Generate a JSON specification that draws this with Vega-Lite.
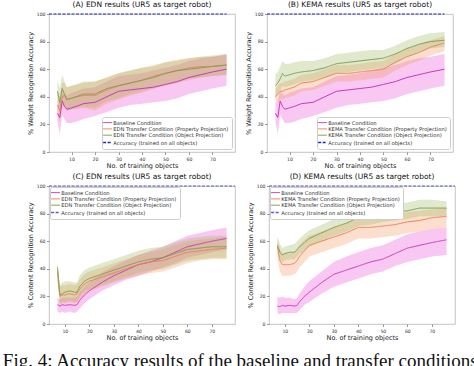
{
  "$schema": "https://vega.github.io/schema/vega-lite/v6.json",
  "padding": {"left": 2, "top": 0, "right": 0, "bottom": 0},
  "background": "white",
  "config": {
    "font": "DejaVu Sans",
    "view": {"stroke": "#b5b5b5", "strokeWidth": 0.8},
    "axis": {"grid": false, "domain": false, "tickCount": 20, "tickColor": "#555555", "tickSize": 2.5, "tickWidth": 0.6, "labelFontSize": 4.6, "labelColor": "#333333", "labelOverlap": false, "labelFlush": false, "titleFontSize": 6.5, "titleFontWeight": "normal", "titleColor": "#222222", "labelPadding": 1.5},
    "title": {"fontSize": 7.5, "fontWeight": "normal", "color": "#111111", "offset": 3},
    "legend": {"fillColor": "white", "strokeColor": "#cccccc", "padding": 3, "cornerRadius": 2, "labelFontSize": 5.2, "labelColor": "#333333", "symbolType": "stroke", "symbolSize": 80, "symbolStrokeWidth": 1, "rowPadding": 0.3, "offset": 3, "labelOffset": 3}
  },
  "datasets": {
    "AB": [
      {"s":"s1","x":4,"m":28,"l":22,"h":34},{"s":"s1","x":5,"m":25,"l":13,"h":37},{"s":"s1","x":6,"m":37,"l":27,"h":45},{"s":"s1","x":7,"m":33,"l":24,"h":42},{"s":"s1","x":8,"m":31,"l":21,"h":41},{"s":"s1","x":10,"m":32,"l":21,"h":43},{"s":"s1","x":12,"m":33,"l":22,"h":44},{"s":"s1","x":15,"m":35,"l":24,"h":46},{"s":"s1","x":20,"m":36,"l":26,"h":47},{"s":"s1","x":25,"m":40,"l":29,"h":51},{"s":"s1","x":30,"m":44,"l":32,"h":55},{"s":"s1","x":35,"m":45,"l":34,"h":56},{"s":"s1","x":40,"m":46,"l":35,"h":57},{"s":"s1","x":45,"m":47,"l":36,"h":59},{"s":"s1","x":50,"m":49,"l":37,"h":61},{"s":"s1","x":55,"m":51,"l":39,"h":63},{"s":"s1","x":60,"m":54,"l":42,"h":66},{"s":"s1","x":65,"m":56,"l":44,"h":68},{"s":"s1","x":70,"m":58,"l":46,"h":69},{"s":"s1","x":76,"m":60,"l":48,"h":71}
    ],
    "A": [
      {"s":"s2","x":4,"m":34,"l":26,"h":44},{"s":"s2","x":5,"m":30,"l":22,"h":40},{"s":"s2","x":6,"m":40,"l":32,"h":50},{"s":"s2","x":7,"m":41,"l":33,"h":50},{"s":"s2","x":8,"m":38,"l":30,"h":47},{"s":"s2","x":10,"m":39,"l":31,"h":48},{"s":"s2","x":12,"m":40,"l":31,"h":49},{"s":"s2","x":15,"m":41,"l":32,"h":50},{"s":"s2","x":20,"m":41,"l":30,"h":51},{"s":"s2","x":25,"m":45,"l":35,"h":54},{"s":"s2","x":30,"m":48,"l":38,"h":57},{"s":"s2","x":35,"m":50,"l":41,"h":59},{"s":"s2","x":40,"m":52,"l":43,"h":61},{"s":"s2","x":45,"m":55,"l":46,"h":63},{"s":"s2","x":50,"m":57,"l":48,"h":65},{"s":"s2","x":55,"m":59,"l":50,"h":67},{"s":"s2","x":60,"m":61,"l":52,"h":68},{"s":"s2","x":65,"m":62,"l":54,"h":69},{"s":"s2","x":70,"m":62,"l":55,"h":69},{"s":"s2","x":76,"m":63,"l":56,"h":70},
      {"s":"s3","x":4,"m":44,"l":36,"h":52},{"s":"s3","x":5,"m":36,"l":28,"h":46},{"s":"s3","x":6,"m":46,"l":37,"h":56},{"s":"s3","x":7,"m":42,"l":34,"h":51},{"s":"s3","x":8,"m":38,"l":30,"h":47},{"s":"s3","x":10,"m":39,"l":31,"h":48},{"s":"s3","x":12,"m":40,"l":32,"h":49},{"s":"s3","x":15,"m":42,"l":33,"h":51},{"s":"s3","x":20,"m":42,"l":32,"h":51},{"s":"s3","x":25,"m":46,"l":37,"h":54},{"s":"s3","x":30,"m":48,"l":39,"h":57},{"s":"s3","x":35,"m":50,"l":42,"h":59},{"s":"s3","x":40,"m":52,"l":44,"h":61},{"s":"s3","x":45,"m":54,"l":46,"h":62},{"s":"s3","x":50,"m":57,"l":49,"h":65},{"s":"s3","x":55,"m":59,"l":51,"h":66},{"s":"s3","x":60,"m":60,"l":53,"h":68},{"s":"s3","x":65,"m":61,"l":54,"h":69},{"s":"s3","x":70,"m":62,"l":55,"h":70},{"s":"s3","x":76,"m":63,"l":56,"h":71},
      {"s":"s4","x":0.4,"m":100},{"s":"s4","x":76,"m":100}
    ],
    "B": [
      {"s":"s2","x":4,"m":40,"l":34,"h":46},{"s":"s2","x":5,"m":42,"l":36,"h":48},{"s":"s2","x":6,"m":44,"l":38,"h":50},{"s":"s2","x":7,"m":44,"l":38,"h":50},{"s":"s2","x":8,"m":45,"l":39,"h":51},{"s":"s2","x":10,"m":46,"l":40,"h":52},{"s":"s2","x":12,"m":47,"l":41,"h":53},{"s":"s2","x":15,"m":50,"l":44,"h":56},{"s":"s2","x":20,"m":51,"l":45,"h":57},{"s":"s2","x":25,"m":54,"l":48,"h":60},{"s":"s2","x":30,"m":57,"l":51,"h":63},{"s":"s2","x":35,"m":57,"l":51,"h":63},{"s":"s2","x":40,"m":58,"l":52,"h":64},{"s":"s2","x":45,"m":59,"l":53,"h":65},{"s":"s2","x":50,"m":60,"l":54,"h":66},{"s":"s2","x":55,"m":65,"l":59,"h":71},{"s":"s2","x":60,"m":69,"l":63,"h":75},{"s":"s2","x":65,"m":72,"l":66,"h":78},{"s":"s2","x":70,"m":76,"l":70,"h":81},{"s":"s2","x":76,"m":79,"l":73,"h":84},
      {"s":"s3","x":4,"m":48,"l":40,"h":56},{"s":"s3","x":5,"m":50,"l":42,"h":58},{"s":"s3","x":6,"m":53,"l":45,"h":62},{"s":"s3","x":7,"m":57,"l":48,"h":66},{"s":"s3","x":8,"m":55,"l":47,"h":64},{"s":"s3","x":10,"m":56,"l":48,"h":64},{"s":"s3","x":12,"m":57,"l":49,"h":65},{"s":"s3","x":15,"m":58,"l":51,"h":66},{"s":"s3","x":20,"m":59,"l":52,"h":66},{"s":"s3","x":25,"m":61,"l":54,"h":68},{"s":"s3","x":30,"m":64,"l":57,"h":71},{"s":"s3","x":35,"m":65,"l":58,"h":72},{"s":"s3","x":40,"m":66,"l":59,"h":73},{"s":"s3","x":45,"m":67,"l":60,"h":74},{"s":"s3","x":50,"m":68,"l":61,"h":74},{"s":"s3","x":55,"m":71,"l":64,"h":77},{"s":"s3","x":60,"m":75,"l":69,"h":81},{"s":"s3","x":65,"m":78,"l":72,"h":84},{"s":"s3","x":70,"m":80,"l":75,"h":86},{"s":"s3","x":76,"m":81,"l":76,"h":87},
      {"s":"s4","x":0.4,"m":100},{"s":"s4","x":76,"m":100}
    ],
    "C": [
      {"s":"s1","x":7,"m":14,"l":9,"h":19},{"s":"s1","x":8,"m":13,"l":8,"h":18},{"s":"s1","x":9,"m":14,"l":9,"h":19},{"s":"s1","x":10,"m":13.5,"l":8,"h":19},{"s":"s1","x":12,"m":14,"l":9,"h":19},{"s":"s1","x":14,"m":13.5,"l":8,"h":19},{"s":"s1","x":15,"m":14,"l":9,"h":20},{"s":"s1","x":16,"m":17,"l":11,"h":23},{"s":"s1","x":18,"m":21,"l":15,"h":27},{"s":"s1","x":20,"m":24,"l":18,"h":30},{"s":"s1","x":25,"m":30,"l":24,"h":37},{"s":"s1","x":30,"m":35,"l":28,"h":42},{"s":"s1","x":35,"m":39,"l":32,"h":46},{"s":"s1","x":40,"m":43,"l":35,"h":50},{"s":"s1","x":45,"m":45,"l":38,"h":53},{"s":"s1","x":50,"m":48,"l":41,"h":56},{"s":"s1","x":55,"m":52,"l":44,"h":60},{"s":"s1","x":60,"m":56,"l":48,"h":64},{"s":"s1","x":65,"m":58,"l":50,"h":66},{"s":"s1","x":70,"m":60,"l":52,"h":68},{"s":"s1","x":76,"m":62,"l":54,"h":70},
      {"s":"s2","x":7,"m":38,"l":30,"h":44},{"s":"s2","x":8,"m":20,"l":14,"h":27},{"s":"s2","x":9,"m":21,"l":15,"h":28},{"s":"s2","x":10,"m":21,"l":15,"h":28},{"s":"s2","x":12,"m":22,"l":16,"h":29},{"s":"s2","x":14,"m":21,"l":15,"h":28},{"s":"s2","x":15,"m":22,"l":16,"h":29},{"s":"s2","x":16,"m":25,"l":18,"h":32},{"s":"s2","x":18,"m":29,"l":22,"h":36},{"s":"s2","x":20,"m":31,"l":24,"h":38},{"s":"s2","x":25,"m":34,"l":27,"h":41},{"s":"s2","x":30,"m":37,"l":30,"h":44},{"s":"s2","x":35,"m":40,"l":33,"h":47},{"s":"s2","x":40,"m":43,"l":35,"h":50},{"s":"s2","x":45,"m":45,"l":37,"h":52},{"s":"s2","x":50,"m":46,"l":38,"h":54},{"s":"s2","x":55,"m":49,"l":41,"h":57},{"s":"s2","x":60,"m":52,"l":44,"h":60},{"s":"s2","x":65,"m":53,"l":46,"h":61},{"s":"s2","x":70,"m":54,"l":47,"h":62},{"s":"s2","x":76,"m":55,"l":47,"h":63},
      {"s":"s3","x":7,"m":41,"l":33,"h":45},{"s":"s3","x":8,"m":21,"l":15,"h":28},{"s":"s3","x":9,"m":22,"l":16,"h":30},{"s":"s3","x":10,"m":23,"l":16,"h":31},{"s":"s3","x":12,"m":24,"l":17,"h":31},{"s":"s3","x":14,"m":23,"l":16,"h":30},{"s":"s3","x":15,"m":23,"l":16,"h":30},{"s":"s3","x":16,"m":27,"l":20,"h":35},{"s":"s3","x":18,"m":31,"l":24,"h":39},{"s":"s3","x":20,"m":33,"l":25,"h":41},{"s":"s3","x":25,"m":36,"l":28,"h":44},{"s":"s3","x":30,"m":39,"l":31,"h":47},{"s":"s3","x":35,"m":42,"l":34,"h":50},{"s":"s3","x":40,"m":45,"l":37,"h":53},{"s":"s3","x":45,"m":47,"l":39,"h":55},{"s":"s3","x":50,"m":48,"l":40,"h":56},{"s":"s3","x":55,"m":51,"l":43,"h":59},{"s":"s3","x":60,"m":54,"l":46,"h":62},{"s":"s3","x":65,"m":55,"l":47,"h":63},{"s":"s3","x":70,"m":56,"l":48,"h":64},{"s":"s3","x":76,"m":56,"l":48,"h":64},
      {"s":"s4","x":3.55,"m":100},{"s":"s4","x":79.45,"m":100}
    ],
    "D": [
      {"s":"s1","x":7,"m":13,"l":8,"h":20},{"s":"s1","x":8,"m":12.5,"l":7,"h":19},{"s":"s1","x":9,"m":13.5,"l":8,"h":20},{"s":"s1","x":10,"m":13,"l":8,"h":19},{"s":"s1","x":12,"m":13.5,"l":8,"h":19},{"s":"s1","x":14,"m":13,"l":8,"h":18},{"s":"s1","x":15,"m":13.5,"l":8,"h":19},{"s":"s1","x":16,"m":16,"l":10,"h":22},{"s":"s1","x":18,"m":20,"l":14,"h":27},{"s":"s1","x":20,"m":23,"l":16,"h":31},{"s":"s1","x":25,"m":30,"l":22,"h":38},{"s":"s1","x":30,"m":36,"l":27,"h":45},{"s":"s1","x":35,"m":39,"l":30,"h":49},{"s":"s1","x":40,"m":42,"l":33,"h":52},{"s":"s1","x":45,"m":45,"l":36,"h":55},{"s":"s1","x":50,"m":47,"l":38,"h":57},{"s":"s1","x":55,"m":51,"l":42,"h":61},{"s":"s1","x":60,"m":55,"l":45,"h":65},{"s":"s1","x":65,"m":57,"l":47,"h":67},{"s":"s1","x":70,"m":59,"l":49,"h":69},{"s":"s1","x":76,"m":61,"l":50,"h":70},
      {"s":"s2","x":7,"m":56,"l":48,"h":63},{"s":"s2","x":8,"m":46,"l":38,"h":54},{"s":"s2","x":9,"m":43,"l":35,"h":51},{"s":"s2","x":10,"m":43,"l":35,"h":51},{"s":"s2","x":12,"m":43,"l":35,"h":51},{"s":"s2","x":14,"m":44,"l":36,"h":52},{"s":"s2","x":15,"m":46,"l":38,"h":54},{"s":"s2","x":16,"m":49,"l":41,"h":57},{"s":"s2","x":18,"m":53,"l":45,"h":61},{"s":"s2","x":20,"m":57,"l":49,"h":64},{"s":"s2","x":25,"m":60,"l":52,"h":67},{"s":"s2","x":30,"m":63,"l":55,"h":70},{"s":"s2","x":35,"m":66,"l":58,"h":73},{"s":"s2","x":40,"m":70,"l":62,"h":77},{"s":"s2","x":45,"m":70,"l":62,"h":77},{"s":"s2","x":50,"m":71,"l":63,"h":78},{"s":"s2","x":55,"m":72,"l":64,"h":79},{"s":"s2","x":60,"m":74,"l":66,"h":81},{"s":"s2","x":65,"m":75,"l":67,"h":82},{"s":"s2","x":70,"m":77,"l":69,"h":83},{"s":"s2","x":76,"m":78,"l":70,"h":84},
      {"s":"s3","x":7,"m":57,"l":51,"h":63},{"s":"s3","x":8,"m":52,"l":47,"h":58},{"s":"s3","x":9,"m":50,"l":45,"h":55},{"s":"s3","x":10,"m":51,"l":46,"h":56},{"s":"s3","x":12,"m":52,"l":47,"h":57},{"s":"s3","x":14,"m":52,"l":47,"h":58},{"s":"s3","x":15,"m":54,"l":49,"h":60},{"s":"s3","x":16,"m":56,"l":51,"h":62},{"s":"s3","x":18,"m":59,"l":53,"h":65},{"s":"s3","x":20,"m":62,"l":56,"h":68},{"s":"s3","x":25,"m":66,"l":60,"h":72},{"s":"s3","x":30,"m":70,"l":64,"h":76},{"s":"s3","x":35,"m":73,"l":67,"h":79},{"s":"s3","x":40,"m":77,"l":71,"h":83},{"s":"s3","x":45,"m":78,"l":72,"h":84},{"s":"s3","x":50,"m":80,"l":74,"h":86},{"s":"s3","x":55,"m":81,"l":75,"h":87},{"s":"s3","x":60,"m":82,"l":76,"h":88},{"s":"s3","x":65,"m":84,"l":78,"h":90},{"s":"s3","x":70,"m":84,"l":78,"h":90},{"s":"s3","x":76,"m":84,"l":78,"h":89},
      {"s":"s4","x":3.55,"m":100},{"s":"s4","x":79.45,"m":100}
    ]
  },
  "title": {"text": "Fig. 4: Accuracy results of the baseline and transfer conditions", "orient": "bottom", "anchor": "start", "font": "Liberation Serif", "fontSize": 19, "fontWeight": "normal", "color": "#111111", "offset": 10, "dx": -24},
  "vconcat": [
    {"hconcat": [
      {"width": 186, "height": 138, "title": "(A) EDN results (UR5 as target robot)",
       "data": {"name": "A"},
       "layer": [
         {"data": {"name": "AB"}, "mark": {"type": "area", "opacity": 0.33},
          "encoding": {"x": {"field": "x", "type": "quantitative", "scale": {"domain": [0.4, 79.6], "nice": false, "zero": false}, "axis": {"values": [10,20,30,40,50,60,70], "tickCount": 20, "labelOverlap": false, "title": "No. of training objects", "titlePadding": 2}},
            "y": {"field": "l", "type": "quantitative", "scale": {"domain": [0, 100], "nice": false}, "axis": {"values": [0,20,40,60,80,100], "tickCount": 20, "labelOverlap": false, "title": "% Weight Recognition Accuracy", "titlePadding": 3}},
            "y2": {"field": "h"},
            "color": {"field": "s", "type": "nominal", "scale": {"domain": ["s1","s2","s3"], "range": ["#ea55d8","#f39a62","#a2b866"]}, "legend": null}}},
         {"mark": {"type": "area", "opacity": 0.33},
          "transform": [{"filter": "datum.s != 's4'"}],
          "encoding": {"x": {"field": "x", "type": "quantitative"}, "y": {"field": "l", "type": "quantitative"}, "y2": {"field": "h"},
            "color": {"field": "s", "type": "nominal", "scale": {"domain": ["s1","s2","s3"], "range": ["#ea55d8","#f39a62","#a2b866"]}, "legend": null}}},
         {"data": {"name": "AB"}, "mark": {"type": "line", "strokeWidth": 1},
          "encoding": {"x": {"field": "x", "type": "quantitative"}, "y": {"field": "m", "type": "quantitative"},
            "color": {"field": "s", "type": "nominal", "scale": {"domain": ["s1","s2","s3","s4"], "range": ["#c83cbc","#e8825a","#7e9e4e","#2424c0"]}, "legend": null}}},
         {"mark": {"type": "line", "strokeWidth": 1},
          "encoding": {"x": {"field": "x", "type": "quantitative"}, "y": {"field": "m", "type": "quantitative"},
            "color": {"field": "s", "type": "nominal", "scale": {"domain": ["s1","s2","s3","s4"], "range": ["#c83cbc","#e8825a","#7e9e4e","#2424c0"]},
              "legend": {"orient": "bottom-right", "title": null, "values": ["s1","s2","s3","s4"], "labelExpr": "datum.label == 's1' ? 'Baseline Condition' : datum.label == 's2' ? 'EDN Transfer Condition (Property Projection)' : datum.label == 's3' ? 'EDN Transfer Condition (Object Projection)' : 'Accuracy (trained on all objects)'",
                "encode": {"symbols": {"update": {"strokeDash": {"signal": "datum.value == 's4' ? [3, 1.5] : [1, 0]"}, "strokeWidth": {"signal": "datum.value == 's4' ? 1.5 : 1"}}}}}},
            "strokeDash": {"field": "s", "type": "nominal", "scale": {"domain": ["s1","s2","s3","s4"], "range": [[1,0],[1,0],[1,0],[3,1.5]]}, "legend": null},
            "strokeWidth": {"field": "s", "type": "nominal", "scale": {"domain": ["s1","s2","s3","s4"], "range": [1,1,1,1.6]}, "legend": null}}}
       ], "resolve": {"scale": {"color": "independent"}}},
      {"width": 186, "height": 138, "title": "(B) KEMA results (UR5 as target robot)",
       "data": {"name": "B"},
       "layer": [
         {"data": {"name": "AB"}, "mark": {"type": "area", "opacity": 0.33},
          "encoding": {"x": {"field": "x", "type": "quantitative", "scale": {"domain": [0.4, 79.6], "nice": false, "zero": false}, "axis": {"values": [10,20,30,40,50,60,70], "tickCount": 20, "labelOverlap": false, "title": "No. of training objects", "titlePadding": 2}},
            "y": {"field": "l", "type": "quantitative", "scale": {"domain": [0, 100], "nice": false}, "axis": {"values": [0,20,40,60,80,100], "tickCount": 20, "labelOverlap": false, "title": "% Weight Recognition Accuracy", "titlePadding": 3}},
            "y2": {"field": "h"},
            "color": {"field": "s", "type": "nominal", "scale": {"domain": ["s1","s2","s3"], "range": ["#ea55d8","#f39a62","#a2b866"]}, "legend": null}}},
         {"mark": {"type": "area", "opacity": 0.33},
          "transform": [{"filter": "datum.s != 's4'"}],
          "encoding": {"x": {"field": "x", "type": "quantitative"}, "y": {"field": "l", "type": "quantitative"}, "y2": {"field": "h"},
            "color": {"field": "s", "type": "nominal", "scale": {"domain": ["s1","s2","s3"], "range": ["#ea55d8","#f39a62","#a2b866"]}, "legend": null}}},
         {"data": {"name": "AB"}, "mark": {"type": "line", "strokeWidth": 1},
          "encoding": {"x": {"field": "x", "type": "quantitative"}, "y": {"field": "m", "type": "quantitative"},
            "color": {"field": "s", "type": "nominal", "scale": {"domain": ["s1","s2","s3","s4"], "range": ["#c83cbc","#e8825a","#7e9e4e","#2424c0"]}, "legend": null}}},
         {"mark": {"type": "line", "strokeWidth": 1},
          "encoding": {"x": {"field": "x", "type": "quantitative"}, "y": {"field": "m", "type": "quantitative"},
            "color": {"field": "s", "type": "nominal", "scale": {"domain": ["s1","s2","s3","s4"], "range": ["#c83cbc","#e8825a","#7e9e4e","#2424c0"]},
              "legend": {"orient": "bottom-right", "title": null, "values": ["s1","s2","s3","s4"], "labelExpr": "datum.label == 's1' ? 'Baseline Condition' : datum.label == 's2' ? 'KEMA Transfer Condition (Property Projection)' : datum.label == 's3' ? 'KEMA Transfer Condition (Object Projection)' : 'Accuracy (trained on all objects)'",
                "encode": {"symbols": {"update": {"strokeDash": {"signal": "datum.value == 's4' ? [3, 1.5] : [1, 0]"}, "strokeWidth": {"signal": "datum.value == 's4' ? 1.5 : 1"}}}}}},
            "strokeDash": {"field": "s", "type": "nominal", "scale": {"domain": ["s1","s2","s3","s4"], "range": [[1,0],[1,0],[1,0],[3,1.5]]}, "legend": null},
            "strokeWidth": {"field": "s", "type": "nominal", "scale": {"domain": ["s1","s2","s3","s4"], "range": [1,1,1,1.6]}, "legend": null}}}
       ], "resolve": {"scale": {"color": "independent"}}}
    ], "spacing": 8, "resolve": {"scale": {"color": "independent", "strokeDash": "independent", "strokeWidth": "independent", "x": "independent", "y": "independent"}, "legend": {"color": "independent"}}},
    {"hconcat": [
      {"width": 186, "height": 138, "title": "(C) EDN results (UR5 as target robot)",
       "data": {"name": "C"},
       "layer": [
         {"mark": {"type": "area", "opacity": 0.33},
          "transform": [{"filter": "datum.s != 's4'"}],
          "encoding": {"x": {"field": "x", "type": "quantitative", "scale": {"domain": [3.55, 79.45], "nice": false, "zero": false}, "axis": {"values": [10,20,30,40,50,60,70], "tickCount": 20, "labelOverlap": false, "title": "No. of training objects", "titlePadding": 2}},
            "y": {"field": "l", "type": "quantitative", "scale": {"domain": [0, 100], "nice": false}, "axis": {"values": [0,20,40,60,80,100], "tickCount": 20, "labelOverlap": false, "title": "% Content Recognition Accuracy", "titlePadding": 3}},
            "y2": {"field": "h"},
            "color": {"field": "s", "type": "nominal", "scale": {"domain": ["s1","s2","s3"], "range": ["#ea55d8","#f39a62","#a2b866"]}, "legend": null}}},
         {"mark": {"type": "line", "strokeWidth": 1},
          "encoding": {"x": {"field": "x", "type": "quantitative"}, "y": {"field": "m", "type": "quantitative"},
            "color": {"field": "s", "type": "nominal", "scale": {"domain": ["s1","s2","s3","s4"], "range": ["#c83cbc","#e8825a","#7e9e4e","#5a5ad8"]},
              "legend": {"orient": "top-left", "title": null, "offset": 1, "values": ["s1","s2","s3","s4"], "labelExpr": "datum.label == 's1' ? 'Baseline Condition' : datum.label == 's2' ? 'EDN Transfer Condition (Property Projection)' : datum.label == 's3' ? 'EDN Transfer Condition (Object Projection)' : 'Accuracy (trained on all objects)'",
                "encode": {"symbols": {"update": {"strokeDash": {"signal": "datum.value == 's4' ? [3, 1.5] : [1, 0]"}, "strokeWidth": {"signal": "datum.value == 's4' ? 1.5 : 1"}}}}}},
            "strokeDash": {"field": "s", "type": "nominal", "scale": {"domain": ["s1","s2","s3","s4"], "range": [[1,0],[1,0],[1,0],[3,1.5]]}, "legend": null},
            "strokeWidth": {"field": "s", "type": "nominal", "scale": {"domain": ["s1","s2","s3","s4"], "range": [1,1,1,1.4]}, "legend": null}}}
       ], "resolve": {"scale": {"color": "independent"}}},
      {"width": 186, "height": 138, "title": "(D) KEMA results (UR5 as target robot)",
       "data": {"name": "D"},
       "layer": [
         {"mark": {"type": "area", "opacity": 0.33},
          "transform": [{"filter": "datum.s != 's4'"}],
          "encoding": {"x": {"field": "x", "type": "quantitative", "scale": {"domain": [3.55, 79.45], "nice": false, "zero": false}, "axis": {"values": [10,20,30,40,50,60,70], "tickCount": 20, "labelOverlap": false, "title": "No. of training objects", "titlePadding": 2}},
            "y": {"field": "l", "type": "quantitative", "scale": {"domain": [0, 100], "nice": false}, "axis": {"values": [0,20,40,60,80,100], "tickCount": 20, "labelOverlap": false, "title": "% Content Recognition Accuracy", "titlePadding": 3}},
            "y2": {"field": "h"},
            "color": {"field": "s", "type": "nominal", "scale": {"domain": ["s1","s2","s3"], "range": ["#ea55d8","#f39a62","#a2b866"]}, "legend": null}}},
         {"mark": {"type": "line", "strokeWidth": 1},
          "encoding": {"x": {"field": "x", "type": "quantitative"}, "y": {"field": "m", "type": "quantitative"},
            "color": {"field": "s", "type": "nominal", "scale": {"domain": ["s1","s2","s3","s4"], "range": ["#c83cbc","#e8825a","#7e9e4e","#5a5ad8"]},
              "legend": {"orient": "top-left", "title": null, "offset": 1, "values": ["s1","s2","s3","s4"], "labelExpr": "datum.label == 's1' ? 'Baseline Condition' : datum.label == 's2' ? 'KEMA Transfer Condition (Property Projection)' : datum.label == 's3' ? 'KEMA Transfer Condition (Object Projection)' : 'Accuracy (trained on all objects)'",
                "encode": {"symbols": {"update": {"strokeDash": {"signal": "datum.value == 's4' ? [3, 1.5] : [1, 0]"}, "strokeWidth": {"signal": "datum.value == 's4' ? 1.5 : 1"}}}}}},
            "strokeDash": {"field": "s", "type": "nominal", "scale": {"domain": ["s1","s2","s3","s4"], "range": [[1,0],[1,0],[1,0],[3,1.5]]}, "legend": null},
            "strokeWidth": {"field": "s", "type": "nominal", "scale": {"domain": ["s1","s2","s3","s4"], "range": [1,1,1,1.4]}, "legend": null}}}
       ], "resolve": {"scale": {"color": "independent"}}}
    ], "spacing": 8, "resolve": {"scale": {"color": "independent", "strokeDash": "independent", "strokeWidth": "independent", "x": "independent", "y": "independent"}, "legend": {"color": "independent"}}}
  ],
  "spacing": 2
}
